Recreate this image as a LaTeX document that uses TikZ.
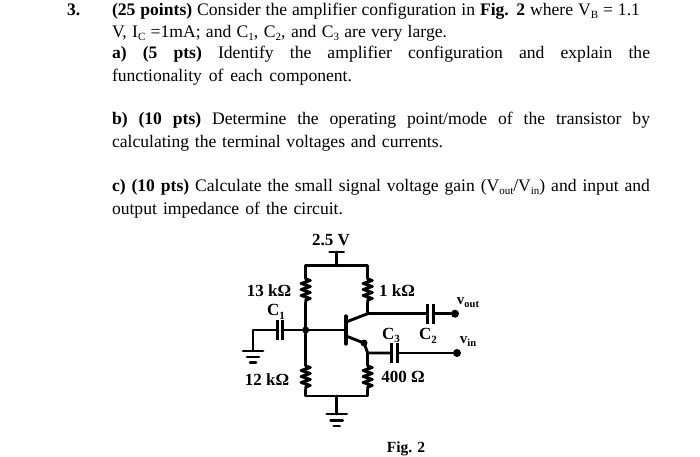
\documentclass[tikz,border=0pt]{standalone}
\usepackage{fontspec}
\setmainfont{Liberation Serif}
\usetikzlibrary{calc,decorations.pathmorphing,arrows.meta}
\newcommand{\sbs}[1]{\raisebox{-0.22em}{\fontsize{11pt}{11pt}\selectfont #1}}
\newcommand{\jl}[2]{\makebox[#1pt][s]{#2}}
\tikzset{
 x=1pt,y=-1pt,
 txt/.style={anchor=base west,inner sep=0pt,outer sep=0pt,font=\fontsize{17.6pt}{20pt}\selectfont},
 lab/.style={inner sep=0pt,outer sep=0pt,font=\bfseries\fontsize{17pt}{18pt}\selectfont},
 vlab/.style={inner sep=0pt,outer sep=0pt,font=\bfseries\fontsize{15pt}{16pt}\selectfont},
 wire/.style={line width=2.9pt,line cap=round,line join=round},
 res/.style={wire,decorate,decoration={zigzag,segment length=6pt,amplitude=4.6pt,pre length=1pt,post length=1pt}},
 plate/.style={line width=2.9pt},
 dot/.style={circle,fill=black,inner sep=0pt,minimum size=8pt},
 smalldot/.style={circle,fill=black,inner sep=0pt,minimum size=7pt}
}
\begin{document}
\begin{tikzpicture}
\useasboundingbox (0,0) rectangle (700,456);
\fill[white] (0,0) rectangle (700,456);
% text
\node[txt] (n3) at (67,15) {\textbf{3.}};
\node[txt] (l1) at (112,15) {\jl{528}{\textbf{(25 points)} Consider the amplifier configuration in \textbf{Fig. 2} where V\sbs{B} = 1.1}};
\node[txt] (l2) at (112,37) {\jl{335}{V, I\sbs{C} =1mA; and C\sbs{1}, C\sbs{2}, and C\sbs{3} are very large.}};
\node[txt] (l3) at (112,58) {\jl{538}{\textbf{a) (5 pts)} Identify the amplifier configuration and explain the}};
\node[txt] (l4) at (112,81) {\jl{240}{functionality of each component.}};
\node[txt] (l5) at (112,124) {\jl{538}{\textbf{b) (10 pts)} Determine the operating point/mode of the transistor by}};
\node[txt] (l6) at (112,147) {\jl{331}{calculating the terminal voltages and currents.}};
\node[txt] (l7) at (112,191) {\jl{538}{\textbf{c) (10 pts)} Calculate the small signal voltage gain (V\sbs{out}/V\sbs{in}) and input and}};
\node[txt] (l8) at (112,214) {\jl{231}{output impedance of the circuit.}};
% circuit coordinates
\coordinate (top) at (336.7,265.7);
\coordinate (vdd) at (336.7,252);
\coordinate (tl) at (305.7,265.7);
\coordinate (tr) at (367.7,265.7);
\coordinate (r1t) at (305.7,278);
\coordinate (r1b) at (305.7,303);
\coordinate (r2t) at (367.7,278);
\coordinate (r2b) at (367.7,303);
\node[smalldot] (b) at (305.7,330) {};
\coordinate (bb) at (346,330);
\coordinate (c) at (367.7,313.7);
\coordinate (cb) at (346,322);
\coordinate (eb) at (346,336);
\coordinate (ej) at (364,343);
\coordinate (e) at (367.7,353);
\coordinate (c1l) at (277.3,330);
\coordinate (c1r) at (282.7,330);
\coordinate (gl) at (253,330);
\coordinate (gl2) at (253,351);
\coordinate (r3t) at (305.7,365);
\coordinate (r3b) at (305.7,390);
\coordinate (r4t) at (367.7,365);
\coordinate (r4b) at (367.7,390);
\coordinate (bl) at (305.7,396);
\coordinate (br) at (367.7,396);
\coordinate (bot) at (336.7,396);
\coordinate (g2) at (336.7,414);
\coordinate (c2l) at (427.3,313.7);
\coordinate (c2r) at (433.3,313.7);
\node[dot] (vo) at (455,313.7) {};
\coordinate (c3l) at (391.7,353);
\coordinate (c3r) at (397.3,353);
\node[dot] (vi) at (457,353) {};
% wires
\draw[wire] (r1t) -- (tl) -- (tr) -- (r2t);
\draw[wire] (top) -- (vdd);
\draw[wire] ($(vdd)+(-7,0)$) -- ($(vdd)+(7,0)$);
\draw[res] (r1t) -- (r1b);
\draw[res] (r2t) -- (r2b);
\draw[wire] (r1b) -- (b) -- (r3t);
\draw[res] (r3t) -- (r3b);
\draw[wire] (r3b) -- (bl) -- (br) -- (r4b);
\draw[res] (r4t) -- (r4b);
\draw[wire] (r2b) -- (c) -- (c2l);
\draw[wire] (c2r) -- (vo);
\draw[wire] (e) -- (r4t);
\draw[wire] (ej) -- (e) -- (c3l);
\draw[wire] (c3r) -- (vi);
\draw[wire] (b) -- (bb);
\draw[wire,line width=3.2pt] (346,316) -- (346,344);
\draw[wire] (cb) -- (c);
\draw[wire] (eb) -- (ej);
\node[smalldot] (arrow) at (ej) {};
\draw[wire] (b) -- (c1r);
\draw[wire] (c1l) -- (gl) -- (gl2);
\draw[plate] (c1l)+(0,-10) -- +(0,10);
\draw[plate] (c1r)+(0,-10) -- +(0,10);
\draw[plate] (c2l)+(0,-10) -- +(0,10);
\draw[plate] (c2r)+(0,-10) -- +(0,10);
\draw[plate] (c3l)+(0,-10) -- +(0,10);
\draw[plate] (c3r)+(0,-10) -- +(0,10);
% grounds
\draw[wire] ($(gl2)+(-10,0)$) -- ($(gl2)+(10,0)$);
\draw[wire] ($(gl2)+(-6,6)$) -- ($(gl2)+(6,6)$);
\draw[wire] ($(gl2)+(-3,11.5)$) -- ($(gl2)+(3,11.5)$);
\draw[wire] (bot) -- (g2);
\draw[wire] ($(g2)+(-10,0)$) -- ($(g2)+(10,0)$);
\draw[wire] ($(g2)+(-6,6.5)$) -- ($(g2)+(6,6.5)$);
\draw[wire] ($(g2)+(-3,12)$) -- ($(g2)+(3,12)$);
% labels
\node[lab] (v25) at (331,240) {2.5 V};
\node[lab] (r13) at (269,291) {13 kΩ};
\node[lab] (r1k) at (397,291) {1 kΩ};
\node[lab] (r12) at (267,380) {12 kΩ};
\node[lab] (r400) at (403,377) {400 Ω};
\node[lab] (lc1) at (276,312) {C\sbs{1}};
\node[lab] (lc3) at (391,335.5) {C\sbs{3}};
\node[lab] (lc2) at (428,335.5) {C\sbs{2}};
\node[vlab] (lvo) at (468,303) {v\raisebox{-0.2em}{\fontsize{10.5pt}{10.5pt}\selectfont out}};
\node[vlab] (lvi) at (468,342) {v\raisebox{-0.2em}{\fontsize{10.5pt}{10.5pt}\selectfont in}};
\node[lab,font=\bfseries\fontsize{15.5pt}{16pt}\selectfont] (fig) at (406,449) {Fig. 2};
\end{tikzpicture}
\end{document}
